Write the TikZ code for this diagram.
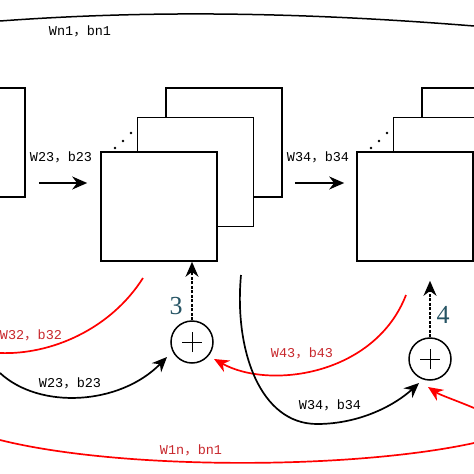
\documentclass[tikz,border=0pt]{standalone}
\usepackage{fontspec}
\setmonofont{Liberation Mono}
\newfontfamily\cjk{Noto Sans CJK SC}
\newfontfamily\numfont{Liberation Serif}
\usetikzlibrary{arrows.meta}

\definecolor{numblue}{RGB}{38,84,100}
\definecolor{labred}{RGB}{200,40,45}
\newcommand{\wc}{{\cjk ，}}

\tikzset{
  layer/.style={draw, line width=1.6pt, fill=white, minimum width=116pt, minimum height=109pt, inner sep=0pt},
  sum/.style={draw, circle, line width=1.5pt, minimum size=42pt, inner sep=0pt},
  wlabel/.style={font=\ttfamily\fontsize{13.5}{14}\selectfont, inner sep=0pt},
  num/.style={text=numblue, font=\numfont\fontsize{26}{26}\selectfont, inner sep=0pt},
  link/.style={line width=1.7pt},
  back/.style={line width=1.7pt, red},
  feed/.style={line width=1.5pt, dash pattern=on 3pt off 1.5pt},
}

\begin{document}
\begin{tikzpicture}[x=1pt, y=-1pt, >={Stealth[length=15pt,width=13pt]}]
\useasboundingbox (0,0) rectangle (474,474);
\clip (0,0) rectangle (474,474);

% first layer, cut at the left
\node [layer] (l1) at (-33,142.5) {};

% second layer
\node [layer] (l2c) at (224,142.5) {};
\node [layer] (l2b) at (195.5,172) {};
\node [layer] (l2a) at (159,206.5) {};
\fill (115,148) circle (1.4);
\fill (123,141) circle (1.4);
\fill (131,133) circle (1.4);

% third layer
\node [layer] (l3c) at (480,142.5) {};
\node [layer] (l3b) at (451.5,172) {};
\node [layer] (l3a) at (415,206.5) {};
\fill (371,148) circle (1.4);
\fill (379,141) circle (1.4);
\fill (387,133) circle (1.4);

% forward connections
\draw [->,link] ([shift={(13pt,-40.5pt)}]l1.east) -- ([shift={(-13pt,23.5pt)}]l2a.west);
\node [wlabel] (w23) at (61,157) {W23\wc b23};
\draw [->,link] ([shift={(12pt,-40.5pt)}]l2c.east) -- ([shift={(-12pt,23.5pt)}]l3a.west);
\node [wlabel] (w34) at (318,157) {W34\wc b34};

% sums
\node [sum] (s3) at (192,342) {};
\draw [line width=0.8pt] ([xshift=-10pt]s3.center) -- ([xshift=10pt]s3.center);
\draw [line width=0.8pt] ([yshift=-10pt]s3.center) -- ([yshift=10pt]s3.center);
\node [sum] (s4) at (430,359) {};
\draw [line width=0.8pt] ([xshift=-10pt]s4.center) -- ([xshift=10pt]s4.center);
\draw [line width=0.8pt] ([yshift=-10pt]s4.center) -- ([yshift=10pt]s4.center);

\node [num] (n3) at (176,306) {3};
\node [num] (n4) at (443,315) {4};
\draw [->,feed] (s3.north) -- (s3.north |- l2a.south);
\draw [->,feed] (s4.north) -- ([yshift=-19pt]s4.north |- l3a.south);

% long skip at the top
\coordinate (t0) at (0,21);
\coordinate (t1) at (474,26);
\draw [line width=1.5pt] (t0) .. controls (150,10) and (300,12) .. (t1);
\node [wlabel] (wn1) at (80,31) {Wn1\wc bn1};

% connections into the sums
\coordinate (r32) at (143,278);
\coordinate (r32e) at (0,353);
\draw [back] (r32) .. controls (110,330) and (50,355) .. (r32e);
\node [wlabel, text=labred] (w32) at (31,335) {W32\wc b32};

\coordinate (k23) at (0,373);
\draw [->,link] (k23) .. controls (40,410) and (120,405) .. (167,357);
\node [wlabel] (w23b) at (70,383) {W23\wc b23};

\coordinate (r43) at (406,295);
\draw [->,back] (r43) .. controls (375,375) and (270,390) .. (214,359);
\node [wlabel, text=labred] (w43) at (302,353) {W43\wc b43};

\coordinate (k34) at (241,275);
\draw [->,link] (k34) .. controls (234,350) and (260,424) .. (317,424)
  .. controls (360,424) and (395,405) .. (419,383);
\node [wlabel] (w34b) at (330,405) {W34\wc b34};

\coordinate (r4) at (474,408);
\draw [->,back] (r4) .. controls (455,400) and (440,395) .. (428,387);

% long skip at the bottom
\coordinate (b0) at (0,440);
\coordinate (b1) at (474,443);
\draw [back] (b0) .. controls (120,470) and (350,470) .. (b1);
\node [wlabel, text=labred] (w1n) at (191,450) {W1n\wc bn1};
\end{tikzpicture}
\end{document}
